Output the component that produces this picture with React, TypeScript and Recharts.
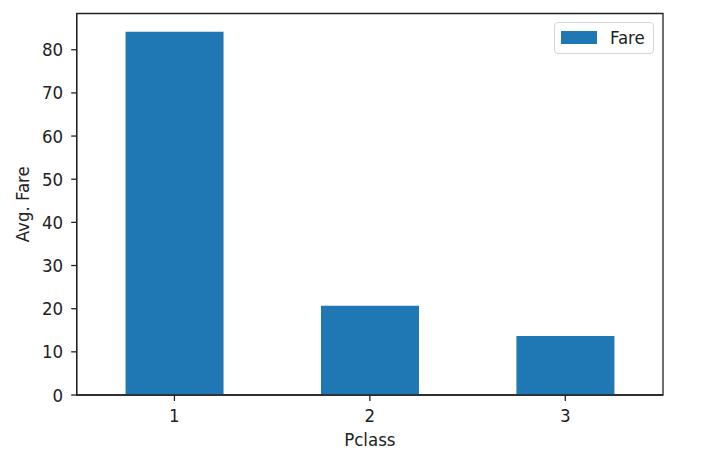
import React from 'react';
import { BarChart, Bar, XAxis, YAxis, Legend, ReferenceArea } from 'recharts';

const pclasses = ['1', '2', '3'];
const fares = [84.15, 20.66, 13.68];
const yTicks = [0, 10, 20, 30, 40, 50, 60, 70, 80];
const yMax = 88.4;
const seriesName = 'Fare';
const xTitle = 'Pclass';
const yTitle = 'Avg. Fare';

const data = pclasses.map((p, i) => ({ pclass: p, Fare: fares[i] }));

const FONT = '"DejaVu Sans Condensed", "DejaVu Sans", sans-serif';
const FS = 18.5;
const TXT = '#222';
const SPINE = '#222';
const BLUE = '#1f77b4';

const YLabel = (props: any) => {
  const vb = props.viewBox || {};
  const cx = vb.x + 29;
  const cy = vb.y + vb.height / 2;
  return (
    <text x={cx} y={cy} transform={`rotate(-90, ${cx}, ${cy})`} textAnchor="middle"
      fontFamily={FONT} fontSize={FS} fill={TXT}>{yTitle}</text>
  );
};

const XLabel = (props: any) => {
  const vb = props.viewBox || {};
  return (
    <text x={vb.x + vb.width / 2} y={vb.y + 51} textAnchor="middle"
      fontFamily={FONT} fontSize={FS} fill={TXT}>{xTitle}</text>
  );
};

const LegendBox = () => (
  <div style={{
    width: 100, height: 32, boxSizing: 'border-box', border: '1px solid #d5d5d5',
    borderRadius: 4, background: 'rgba(255,255,255,0.8)', position: 'relative',
    fontFamily: FONT, fontSize: FS, color: TXT,
  }}>
    <div style={{ position: 'absolute', left: 6, top: 8, width: 36, height: 13, background: BLUE }} />
    <div style={{ position: 'absolute', left: 55, top: 4, lineHeight: '22px' }}>{seriesName}</div>
  </div>
);

export default function App() {
  return (
    <div style={{ position: 'absolute', left: 0, top: 0, width: 711, height: 465, background: '#fff' }}>
      <BarChart width={711} height={465} data={data}
        margin={{ top: 13.5, right: 48, bottom: 0, left: 0 }} barCategoryGap="25%">
        <XAxis dataKey="pclass" height={70} tickSize={6} tickMargin={8}
          axisLine={{ stroke: SPINE, strokeWidth: 1.3 }} tickLine={{ stroke: SPINE, strokeWidth: 1.3 }}
          tick={{ fill: TXT, fontSize: FS, fontFamily: FONT }} label={<XLabel />} />
        <YAxis width={76.7} domain={[0, yMax]} ticks={yTicks} tickSize={5.5} tickMargin={8}
          axisLine={{ stroke: SPINE, strokeWidth: 1.3 }} tickLine={{ stroke: SPINE, strokeWidth: 1.3 }}
          tick={{ fill: TXT, fontSize: FS, fontFamily: FONT }} label={<YLabel />} />
        <Legend layout="horizontal" verticalAlign="middle" align="center"
          wrapperStyle={{ position: 'absolute', top: 22, left: 554, width: 100, height: 32 }}
          content={<LegendBox />} />
        <Bar dataKey="Fare" fill={BLUE} isAnimationActive={false} />
        <ReferenceArea x1={pclasses[0]} x2={pclasses[pclasses.length - 1]} y1={0} y2={yMax}
          fill="none" fillOpacity={0} stroke={SPINE} strokeWidth={1.3} ifOverflow="visible" />
      </BarChart>
    </div>
  );
}
